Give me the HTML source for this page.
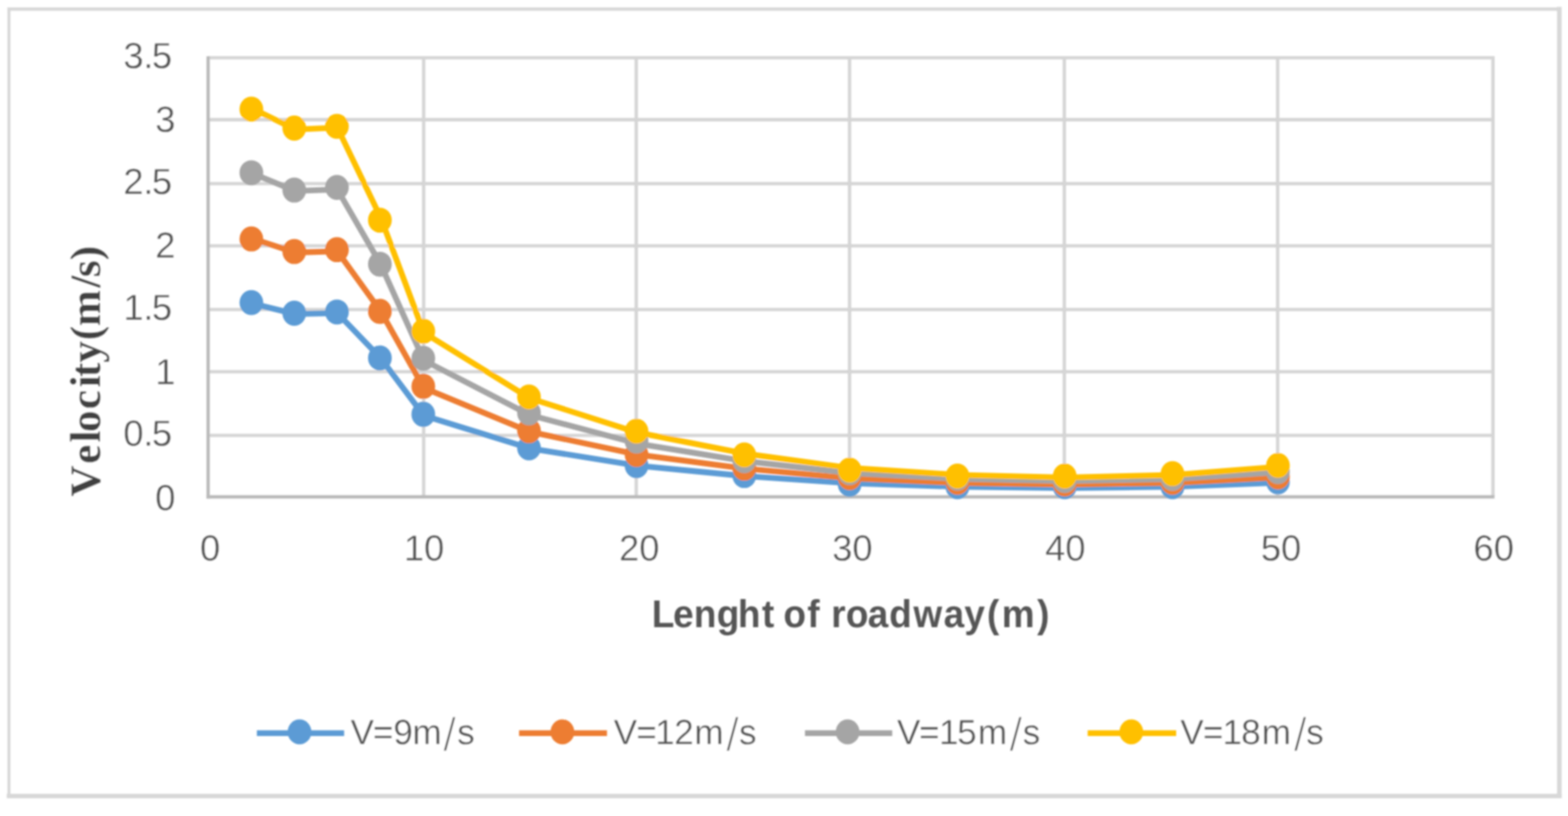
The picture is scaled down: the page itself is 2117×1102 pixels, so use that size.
<!DOCTYPE html>
<html lang="en"><head><meta charset="utf-8"><title>Velocity along roadway</title>
<style>html,body{margin:0;padding:0;background:#fff;overflow:hidden}svg{display:block}text{font-family:"Liberation Sans",sans-serif;fill:#4f4f4f;stroke:#fff;stroke-width:0.45;paint-order:fill stroke;font-kerning:none;text-rendering:geometricPrecision}.tick{font-size:49.2px}.xt{font-size:52.5px;font-weight:bold;stroke:none;fill:#555}.yt{font-family:"Liberation Serif",serif;font-weight:bold;font-size:58.5px;fill:#404040;stroke-width:0.3px}.sl{font-size:64px;stroke-width:1.9px}.lg{font-size:47.5px}</style></head><body>
<svg width="2117" height="1102" viewBox="0 0 2117 1102">
<defs><filter id="soft" x="0" y="0" width="2117" height="1102" filterUnits="userSpaceOnUse"><feGaussianBlur stdDeviation="1.15"/></filter></defs>
<rect width="2117" height="1102" fill="#fff"/>
<g filter="url(#soft)">
<g stroke="#d8d8d8" fill="none" stroke-linecap="square"><line x1="12.1" y1="12.3" x2="12.1" y2="1074.9" stroke-width="4"/><line x1="12.1" y1="12.3" x2="2105.3" y2="12.3" stroke-width="4.4"/><line x1="2105.3" y1="12.3" x2="2105.3" y2="1074.9" stroke-width="6.2"/><line x1="12.1" y1="1074.9" x2="2105.3" y2="1074.9" stroke-width="6"/></g>
<g stroke="#d5d5d5" stroke-width="4.6" fill="none">
<line x1="281" y1="588" x2="2017.7" y2="588"/>
<line x1="281" y1="502" x2="2017.7" y2="502"/>
<line x1="281" y1="418" x2="2017.7" y2="418"/>
<line x1="281" y1="332" x2="2017.7" y2="332"/>
<line x1="281" y1="248" x2="2017.7" y2="248"/>
<line x1="281" y1="161.6" x2="2017.7" y2="161.6"/>
<line x1="281" y1="78" x2="2017.7" y2="78"/>
<line x1="572" y1="76" x2="572" y2="671"/>
<line x1="859" y1="76" x2="859" y2="671"/>
<line x1="1147" y1="76" x2="1147" y2="671"/>
<line x1="1437" y1="76" x2="1437" y2="671"/>
<line x1="1725" y1="76" x2="1725" y2="671"/>
<line x1="2015.7" y1="76" x2="2015.7" y2="671"/>
</g>
<g stroke="#b9b9b9" stroke-width="4.4" fill="none">
<line x1="281" y1="76" x2="281" y2="673.2"/>
<line x1="278.8" y1="671" x2="2017.7" y2="671"/>
</g>
<g fill="#5B9BD5" stroke="none">
<polyline points="340.6,409.9 398.5,424.1 455.5,422.9 514.1,483.8 572.2,561.3 715.4,605.6 860.6,628.8 1006.1,643 1148.3,652.7 1293.9,657.3 1438.7,659.1 1584.2,657.4 1726.6,651.9" fill="none" stroke="#5B9BD5" stroke-width="7.8" stroke-linejoin="round" stroke-linecap="round"/>
<ellipse cx="339.4" cy="408.6" rx="16.0" ry="16.9"/>
<ellipse cx="397.3" cy="423" rx="16.0" ry="16.9"/>
<ellipse cx="454.9" cy="421.3" rx="16.0" ry="16.9"/>
<ellipse cx="512.9" cy="483.4" rx="16.0" ry="16.9"/>
<ellipse cx="571.5" cy="559.5" rx="16.0" ry="16.9"/>
<ellipse cx="714.2" cy="604.9" rx="16.0" ry="16.9"/>
<ellipse cx="859.4" cy="628.8" rx="16.0" ry="16.9"/>
<ellipse cx="1004.9" cy="642.2" rx="16.0" ry="16.9"/>
<ellipse cx="1147.1" cy="653.9" rx="16.0" ry="16.9"/>
<ellipse cx="1292.7" cy="657.4" rx="16.0" ry="16.9"/>
<ellipse cx="1437.5" cy="657.4" rx="16.0" ry="16.9"/>
<ellipse cx="1583" cy="657.4" rx="16.0" ry="16.9"/>
<ellipse cx="1725.4" cy="650.7" rx="16.0" ry="16.9"/>
</g>
<g fill="#ED7D31" stroke="none">
<polyline points="340.6,322.1 398.5,341 455.5,339.4 514.1,420.5 572.2,523.9 715.4,583.1 860.6,613.9 1006.1,632.9 1148.3,645.8 1293.9,652 1438.7,654.3 1584.2,652.1 1726.6,644.7" fill="none" stroke="#ED7D31" stroke-width="7.8" stroke-linejoin="round" stroke-linecap="round"/>
<ellipse cx="339.4" cy="322.7" rx="16.0" ry="16.9"/>
<ellipse cx="397.3" cy="339.7" rx="16.0" ry="16.9"/>
<ellipse cx="454.9" cy="337.2" rx="16.0" ry="16.9"/>
<ellipse cx="512.9" cy="420.5" rx="16.0" ry="16.9"/>
<ellipse cx="571.5" cy="521.7" rx="16.0" ry="16.9"/>
<ellipse cx="714.2" cy="581.7" rx="16.0" ry="16.9"/>
<ellipse cx="859.4" cy="613.9" rx="16.0" ry="16.9"/>
<ellipse cx="1004.9" cy="632.2" rx="16.0" ry="16.9"/>
<ellipse cx="1147.1" cy="645.1" rx="16.0" ry="16.9"/>
<ellipse cx="1292.7" cy="651.3" rx="16.0" ry="16.9"/>
<ellipse cx="1437.5" cy="653.6" rx="16.0" ry="16.9"/>
<ellipse cx="1583" cy="651.4" rx="16.0" ry="16.9"/>
<ellipse cx="1725.4" cy="644" rx="16.0" ry="16.9"/>
</g>
<g fill="#A5A5A5" stroke="none">
<polyline points="340.6,234.2 398.5,257.9 455.5,255.9 514.1,357.3 572.2,486.6 715.4,560.5 860.6,599.1 1006.1,622.8 1148.3,638.9 1293.9,646.6 1438.7,649.6 1584.2,646.8 1726.6,637.6" fill="none" stroke="#A5A5A5" stroke-width="7.8" stroke-linejoin="round" stroke-linecap="round"/>
<ellipse cx="339.4" cy="233.3" rx="16.0" ry="16.9"/>
<ellipse cx="397.3" cy="256.7" rx="16.0" ry="16.9"/>
<ellipse cx="454.9" cy="253.1" rx="16.0" ry="16.9"/>
<ellipse cx="512.9" cy="356.8" rx="16.0" ry="16.9"/>
<ellipse cx="571.5" cy="483.8" rx="16.0" ry="16.9"/>
<ellipse cx="714.2" cy="557.6" rx="16.0" ry="16.9"/>
<ellipse cx="859.4" cy="595.5" rx="16.0" ry="16.9"/>
<ellipse cx="1004.9" cy="622.1" rx="16.0" ry="16.9"/>
<ellipse cx="1147.1" cy="638.2" rx="16.0" ry="16.9"/>
<ellipse cx="1292.7" cy="645.9" rx="16.0" ry="16.9"/>
<ellipse cx="1437.5" cy="648.9" rx="16.0" ry="16.9"/>
<ellipse cx="1583" cy="646.1" rx="16.0" ry="16.9"/>
<ellipse cx="1725.4" cy="636.9" rx="16.0" ry="16.9"/>
</g>
<g fill="#FFC000" stroke="none">
<polyline points="340.6,146.4 398.5,174.8 455.5,172.4 514.1,294.1 572.2,449.2 715.4,537.9 860.6,584.2 1006.1,612.7 1148.3,632 1293.9,641.3 1438.7,644.8 1584.2,641.5 1726.6,630.4" fill="none" stroke="#FFC000" stroke-width="7.8" stroke-linejoin="round" stroke-linecap="round"/>
<ellipse cx="339.4" cy="147.4" rx="16.0" ry="16.9"/>
<ellipse cx="397.3" cy="173" rx="16.0" ry="16.9"/>
<ellipse cx="454.9" cy="170.6" rx="16.0" ry="16.9"/>
<ellipse cx="512.9" cy="297.3" rx="16.0" ry="16.9"/>
<ellipse cx="571.5" cy="447.4" rx="16.0" ry="16.9"/>
<ellipse cx="714.2" cy="536.1" rx="16.0" ry="16.9"/>
<ellipse cx="859.4" cy="582.4" rx="16.0" ry="16.9"/>
<ellipse cx="1004.9" cy="614.4" rx="16.0" ry="16.9"/>
<ellipse cx="1147.1" cy="635" rx="16.0" ry="16.9"/>
<ellipse cx="1292.7" cy="643" rx="16.0" ry="16.9"/>
<ellipse cx="1437.5" cy="643" rx="16.0" ry="16.9"/>
<ellipse cx="1583" cy="639.7" rx="16.0" ry="16.9"/>
<ellipse cx="1725.4" cy="628.6" rx="16.0" ry="16.9"/>
</g>
<text class="tick" x="209.4" y="688.5">0</text>
<text class="tick" x="166.6 193.5 204.9" y="601.9">0.5</text>
<text class="tick" x="209.4" y="518.5">1</text>
<text class="tick" x="166.6 193.5 204.9" y="431.9">1.5</text>
<text class="tick" x="209.4" y="348.4">2</text>
<text class="tick" x="166.6 193.5 204.9" y="261.9">2.5</text>
<text class="tick" x="209.4" y="178">3</text>
<text class="tick" x="166.6 193.5 204.9" y="91.6">3.5</text>
<text class="tick" x="283.6" y="757.2" text-anchor="middle">0</text>
<text class="tick" x="572.6" y="757.2" text-anchor="middle">10</text>
<text class="tick" x="863" y="757.2" text-anchor="middle">20</text>
<text class="tick" x="1150.8" y="757.2" text-anchor="middle">30</text>
<text class="tick" x="1438.3" y="757.2" text-anchor="middle">40</text>
<text class="tick" x="1729.5" y="757.2" text-anchor="middle">50</text>
<text class="tick" x="2016.7" y="757.2" text-anchor="middle">60</text>
<text class="xt" transform="translate(0 846.5) scale(0.95 1)" x="926.4 956.6 986.1 1018.6 1048.8 1083 1100.5 1113.4 1147.4 1164.9 1181.3 1202.2 1233.2 1263.6 1298.1 1341 1370.6 1402.5 1423.7 1474" y="0">Lenght of roadway(m)</text>
<text class="yt" transform="translate(134.5 672) rotate(-90)" x="1.2 45.4 74.5 88.5 119.3 148.7 162.7 182.3 212.6 231.6 283.6 297.8 320.4" y="0">Velocity(m/s)</text>
<line x1="346.8" y1="990.1" x2="464.6" y2="990.1" stroke="#5B9BD5" stroke-width="7.8"/>
<ellipse cx="404.4" cy="988.4" rx="16.0" ry="16.9" fill="#5B9BD5"/>
<text class="lg" x="473.2 503.6 531.1 556.8 597.9 617.3" y="1005 1005 1005 1005 1013.6 1005">V=9m<tspan class="sl">/</tspan>s</text>
<line x1="700.8" y1="990.1" x2="819.5" y2="990.1" stroke="#ED7D31" stroke-width="7.8"/>
<ellipse cx="759.3" cy="988.4" rx="16.0" ry="16.9" fill="#ED7D31"/>
<text class="lg" x="828.5 859 884.4 910.2 937.6 980 997.7" y="1005 1005 1005 1005 1005 1013.6 1005">V=12m<tspan class="sl">/</tspan>s</text>
<line x1="1086.8" y1="990.1" x2="1204.6" y2="990.1" stroke="#A5A5A5" stroke-width="7.8"/>
<ellipse cx="1144.4" cy="988.4" rx="16.0" ry="16.9" fill="#A5A5A5"/>
<text class="lg" x="1211 1240.7 1267.8 1292.3 1320.2 1362.5 1380.7" y="1005 1005 1005 1005 1005 1013.6 1005">V=15m<tspan class="sl">/</tspan>s</text>
<line x1="1468.5" y1="990.1" x2="1588" y2="990.1" stroke="#FFC000" stroke-width="7.8"/>
<ellipse cx="1527.4" cy="988.4" rx="16.0" ry="16.9" fill="#FFC000"/>
<text class="lg" x="1593.6 1624.1 1650.4 1675.7 1703.6 1746.4 1763.6" y="1005 1005 1005 1005 1005 1013.6 1005">V=18m<tspan class="sl">/</tspan>s</text>
</g>
</svg></body></html>
